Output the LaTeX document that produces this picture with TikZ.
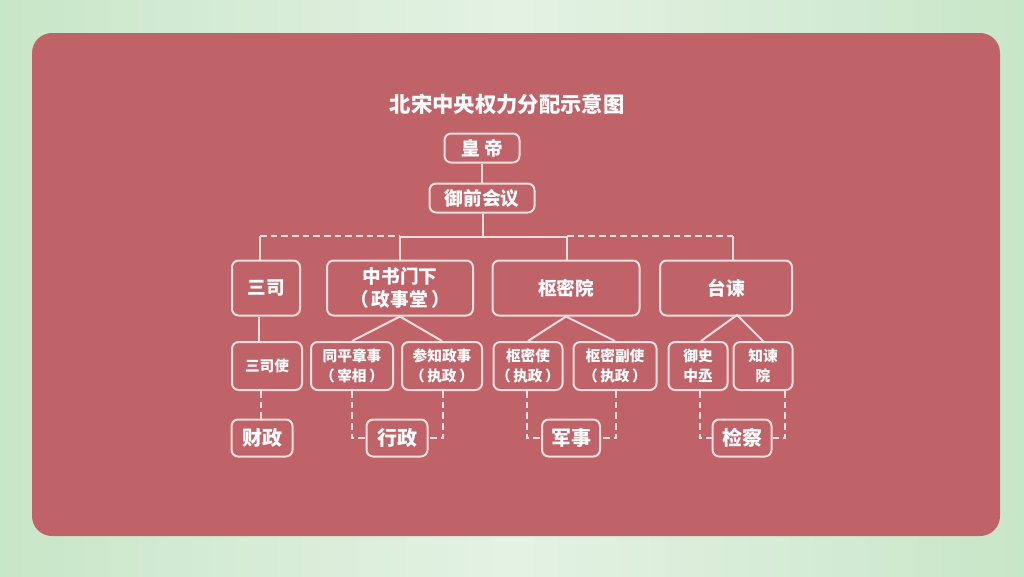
\documentclass[tikz,border=0pt]{standalone}
\usepackage{fontspec}
\newfontfamily\cjk{Noto Sans CJK SC}
\usetikzlibrary{calc}
\definecolor{bgside}{RGB}{200,230,200}
\definecolor{bgmid}{RGB}{228,242,228}
\definecolor{panel}{RGB}{191,99,105}
\definecolor{ln}{RGB}{248,222,222}
\begin{document}
\begin{tikzpicture}[x=0.75pt,y=-0.75pt,
  box/.style={draw=ln,line width=1.5pt,rounded corners=5pt,text=white,align=center,inner sep=0pt},
  big/.style={box,font=\cjk\bfseries\fontsize{14}{17}\selectfont},
  mid/.style={box,font=\cjk\bfseries\fontsize{11}{15}\selectfont},
  r2/.style={big,minimum height=41.25pt},
  r3/.style={mid,minimum height=36pt},
  r4/.style={box,font=\cjk\bfseries\fontsize{15}{17}\selectfont,minimum height=27.75pt},
  con/.style={draw=ln,line width=1.5pt},
  dsh/.style={con,dash pattern=on 5pt off 3pt}]
\useasboundingbox (0,0) rectangle (1024,576);
\shade[left color=bgside,right color=bgside,middle color=bgmid] (0,0) rectangle (1024,576);
\fill[panel,rounded corners=15pt] (32,33) rectangle (1000,536);

\node[text=white,font=\cjk\bfseries\fontsize{16}{18}\selectfont] (title) at (507,104) {北宋中央权力分配示意图};

\node[big,minimum width=56.25pt,minimum height=21.75pt] (hd) at (482,148) {皇 帝};
\node[big,minimum width=78.75pt,minimum height=21.75pt] (yq) at (482,198) {御前会议};

\node[r2,minimum width=51pt] (ss) at (266,288) {三司};
\node[r2,minimum width=109.5pt] (zs) at (400,288) {中书门下\\（\,政事堂\,）};
\node[r2,minimum width=110.25pt] (smy) at (566,288) {枢密院};
\node[r2,minimum width=99pt] (tj) at (726,288) {台谏};

\node[r3,minimum width=52.5pt] (ssz) at (267,366) {三司使};
\node[r3,minimum width=61.5pt] (tp) at (352,366) {同平章事\\（\,宰相\,）};
\node[r3,minimum width=60pt] (cz) at (442,366) {参知政事\\（\,执政\,）};
\node[r3,minimum width=51.75pt] (sms) at (528,366) {枢密使\\（\,执政\,）};
\node[r3,minimum width=62.25pt] (smf) at (615,366) {枢密副使\\（\,执政\,）};
\node[r3,minimum width=44.25pt] (yszc) at (698,366) {御史\\中丞};
\node[r3,minimum width=44.25pt] (zjy) at (763,366) {知谏\\院};

\node[r4,minimum width=45.75pt] (cai) at (262,438) {财政};
\node[r4,minimum width=45.75pt] (xz) at (397,438) {行政};
\node[r4,minimum width=43.5pt] (js) at (571,438) {军事};
\node[r4,minimum width=44.25pt] (jc) at (742,438) {检察};

% top connectors
\draw[con] (hd) -- (yq);
\coordinate (bus) at (483,237);
\coordinate (bz) at (400,237);
\coordinate (bm) at (567,237);
\coordinate (bs) at (260,236);
\coordinate (bt) at (733,236);
\draw[con] (yq.south -| bus) -- (bus);
\draw[con] (bz) -- (bm);
\draw[con] (bz) -- (bz |- zs.north);
\draw[con] (bm) -- (bm |- smy.north);
\draw[dsh] (bs) -- (bz |- bs);
\draw[dsh] (bm |- bt) -- (bt);
\draw[con] (bs) -- (bs |- ss.north);
\draw[con] (bt) -- (bt |- tj.north);

% row 2 to row 3
\draw[con] (259,0 |- ss.south) -- (259,0 |- ssz.north);
\draw[con] (tp.north) -- (zs.south) -- (cz.north);
\draw[con] (sms.north) -- (smy.south) -- (smf.north);
\coordinate (tja) at (737,315);
\draw[con] ($(yszc.north)+(3,0)$) -- (tja) -- (zjy.north);

% row 3 to row 4
\draw[dsh] (261,0 |- ssz.south) -- (261,0 |- cai.north);
\draw[dsh] (352,0 |- tp.south) |- (xz.west);
\draw[dsh] (443,0 |- cz.south) |- (xz.east);
\draw[dsh] (527,0 |- sms.south) |- (js.west);
\draw[dsh] (616,0 |- smf.south) |- (js.east);
\draw[dsh] (700,0 |- yszc.south) |- (jc.west);
\draw[dsh] (785,0 |- zjy.south) |- (jc.east);
\end{tikzpicture}
\end{document}
